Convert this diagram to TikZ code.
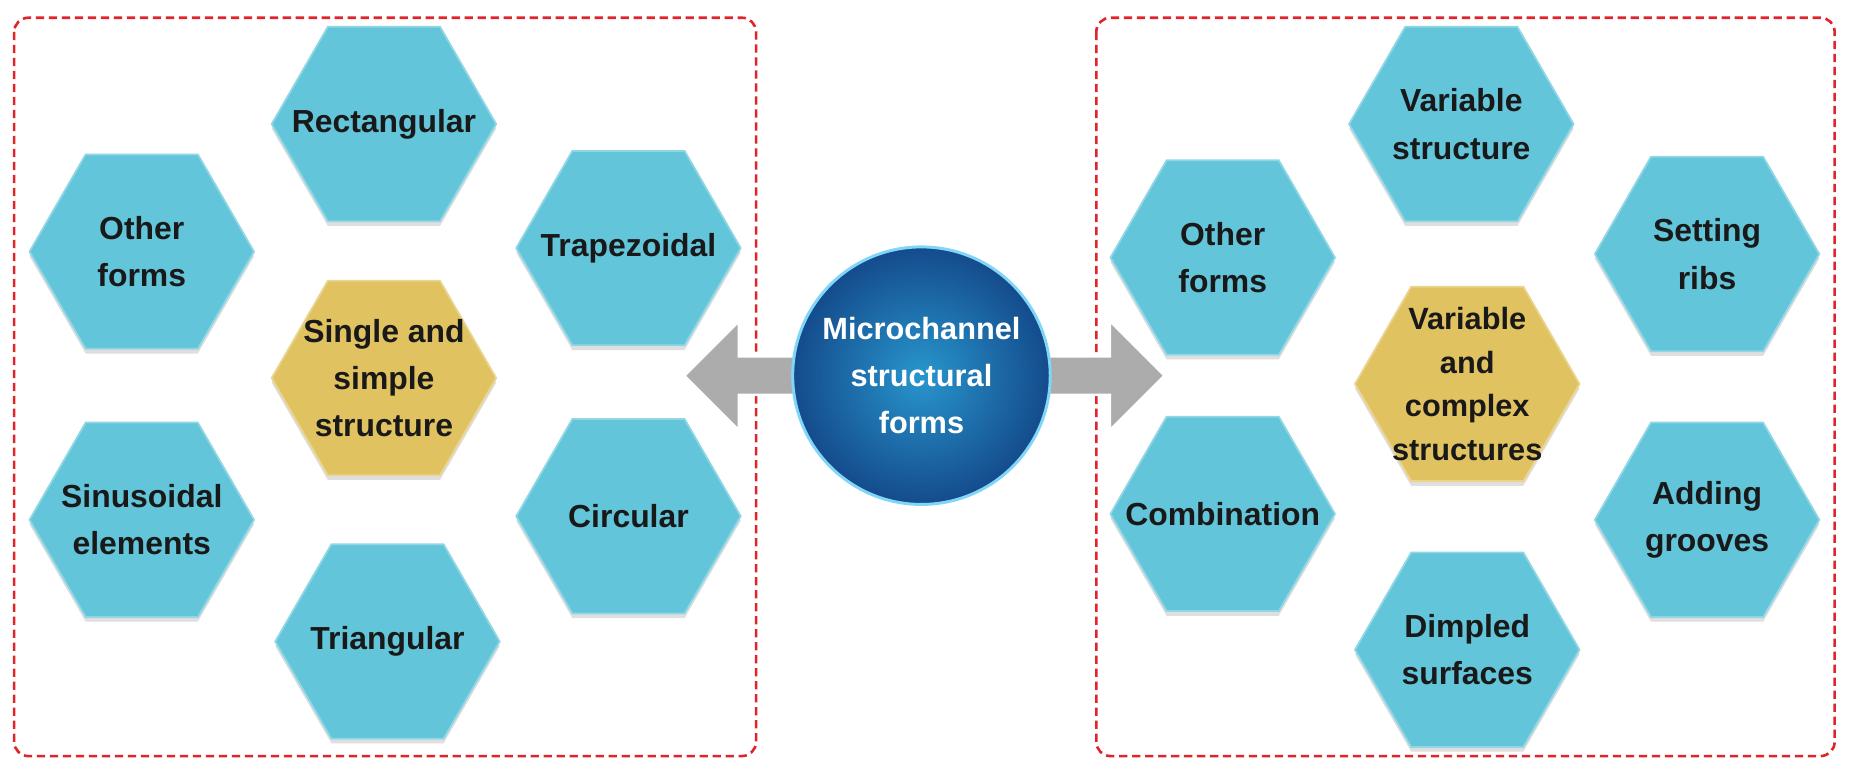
\documentclass[tikz,border=0pt]{standalone}
\usepackage{fontspec}
\setmainfont{Liberation Sans}
\usetikzlibrary{shapes.geometric,shapes.arrows,shadows}
\definecolor{hexblue}{HTML}{62C5DA}
\definecolor{hexgold}{HTML}{E0C260}
\definecolor{boxred}{HTML}{E0242C}
\tikzset{
  hexa/.style={regular polygon, regular polygon sides=6, minimum size=190pt, inner sep=0pt,
    fill=hexblue, draw=hexblue!70!white, line width=1.5pt,
    drop shadow={shadow xshift=0pt, shadow yshift=-4pt, opacity=0.25, fill=gray}},
  hexgoldst/.style={hexa, fill=hexgold, draw=hexgold!70!white},
  hextext/.style={align=center, inner sep=0pt, font=\fontsize{27}{40}\selectfont\bfseries, text=black!90},
  frame/.style={draw=boxred, line width=2.2pt, rounded corners=12pt, dash pattern=on 7pt off 4pt},
  garrow/.style={single arrow, fill=gray!65, draw=white, line width=2pt, minimum height=105pt,
    minimum width=92pt, single arrow head extend=22pt, inner sep=11pt}
}
\newcommand{\hexnode}[5]{%
  \node[#1] (#2) at (#3) {};
  \node[hextext] (#2t) at (#2.center) {#4};}
\begin{document}
\begin{tikzpicture}[x=1pt,y=-1pt]
\useasboundingbox (0,0) rectangle (1566,663);
\fill[white] (0,0) rectangle (1566,663);
\draw[frame] (12,15) rectangle (640,640);
\draw[frame] (928,15) rectangle (1553,640);
% arrows
\node[garrow, shape border rotate=180] (la) at (640,318) {};
\node[garrow] (ra) at (925,318) {};
% center
\node[circle, minimum width=218pt, draw=cyan!50!white, line width=2.5pt, inner sep=0pt,
  inner color={rgb,255:red,40;green,150;blue,205}, outer color={rgb,255:red,20;green,75;blue,140},
  text=white, align=center,
  font=\fontsize{26}{40}\selectfont\bfseries] (c) at (780,318) {Microchannel\\structural\\forms};
% left
\hexnode{hexa}{rect}{325,105}{Rectangular}{}
\hexnode{hexa}{oth1}{120,213}{Other\\forms}{}
\hexnode{hexa}{trap}{532,210}{Trapezoidal}{}
\hexnode{hexgoldst}{single}{325,320}{Single and\\simple\\structure}{}
\hexnode{hexa}{sin}{120,440}{Sinusoidal\\elements}{}
\hexnode{hexa}{circ}{532,437}{Circular}{}
\hexnode{hexa}{tri}{328,543}{Triangular}{}
% right
\hexnode{hexa}{vs}{1237,105}{Variable\\structure}{}
\hexnode{hexa}{oth2}{1035,218}{Other\\forms}{}
\hexnode{hexa}{rib}{1445,215}{Setting\\ribs}{}
\node[hexgoldst] (vc) at (1242,325) {};
\node[hextext, font=\fontsize{26}{37}\selectfont\bfseries] (vct) at (vc.center) {Variable\\and\\complex\\structures};
\hexnode{hexa}{comb}{1035,435}{Combination}{}
\hexnode{hexa}{groove}{1445,440}{Adding\\grooves}{}
\hexnode{hexa}{dimp}{1242,550}{Dimpled\\surfaces}{}
\end{tikzpicture}
\end{document}
